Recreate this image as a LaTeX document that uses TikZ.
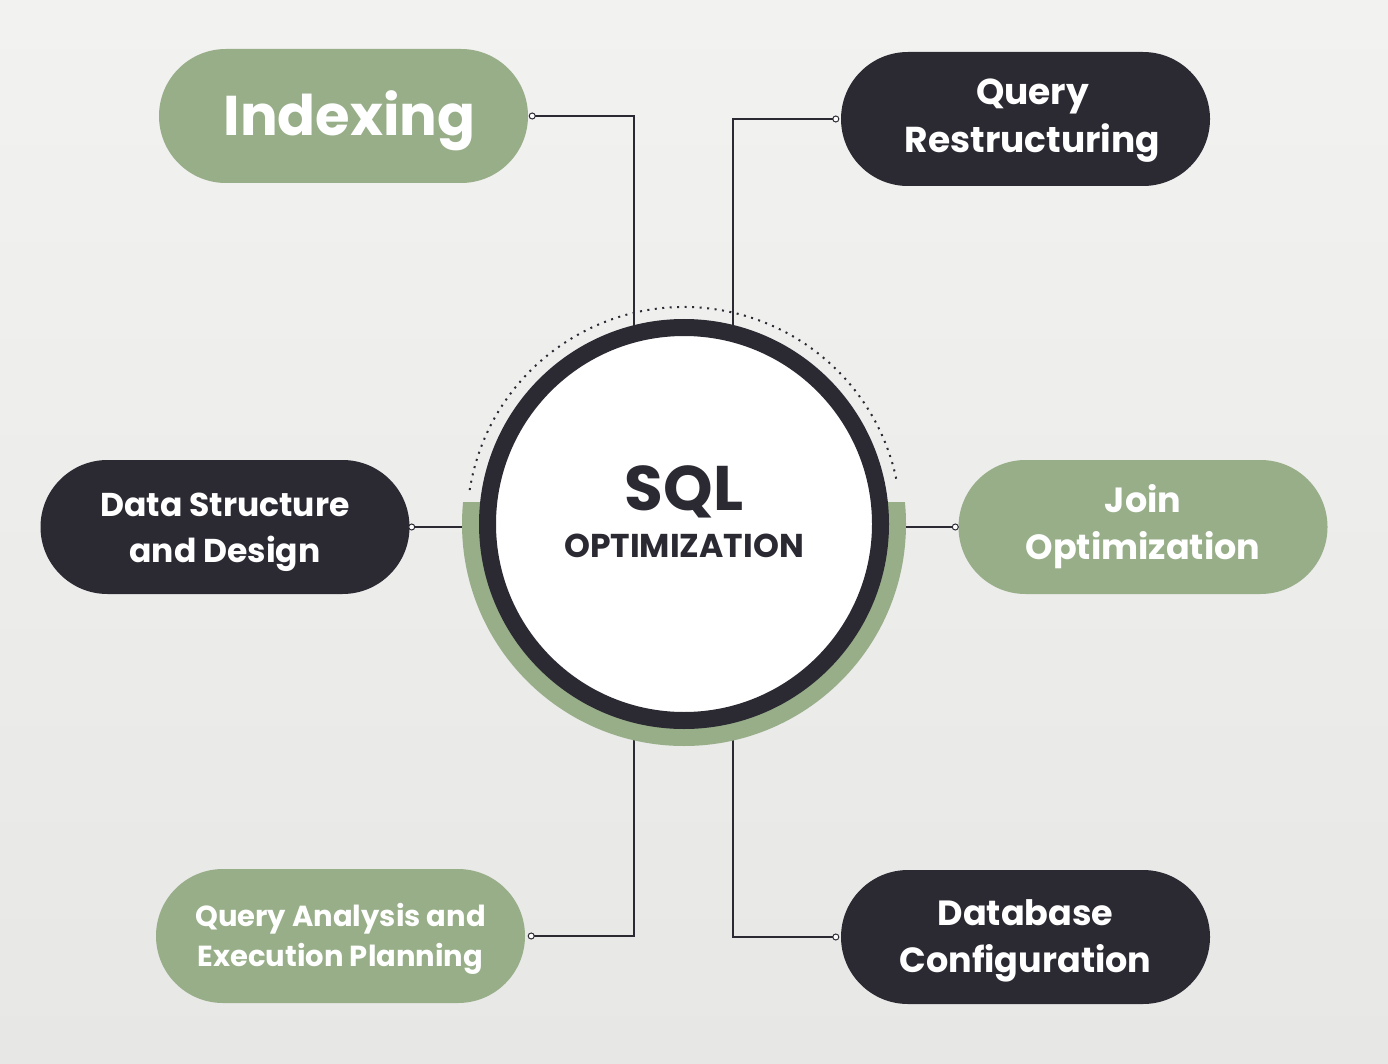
\documentclass[tikz,border=0pt]{standalone}
\usepackage{fontspec}
\setmainfont{Poppins}
\usetikzlibrary{calc}
\definecolor{sage}{HTML}{97AE88}
\definecolor{ink}{HTML}{2B2A33}
\definecolor{bgtop}{HTML}{F2F2F1}
\definecolor{bgbot}{HTML}{E7E7E6}
\newcommand\shiftdown[2]{\raisebox{-#1}[\height][\depth]{#2}}
\begin{document}
\begin{tikzpicture}[x=1pt,y=-1pt,
  pill/.style={rounded corners=67pt, minimum width=369pt, minimum height=134pt,
    inner sep=0pt, align=center, text=white, font=\bfseries},
  greenpill/.style={pill, fill=sage},
  darkpill/.style={pill, fill=ink},
  link/.style={draw=ink, line width=1.4pt},
  enddot/.style={draw=ink, fill=white, line width=1pt}
]
\useasboundingbox (0,0) rectangle (1388,1064);
\shade[top color=bgtop, bottom color=bgbot] (0,0) rectangle (1388,1064);

% pills
\node[greenpill, font=\bfseries\fontsize{56}{60}\selectfont] (idx) at (343.5,116) {\hspace*{12pt}\shiftdown{5pt}{Indexing}};
\node[darkpill, font=\bfseries\fontsize{36}{48}\selectfont] (qr) at (1025.5,119) {\hspace*{14pt}\shiftdown{2pt}{Query}\\\hspace*{14pt}\shiftdown{2pt}{Restructuring}};
\node[darkpill, font=\bfseries\fontsize{33}{46}\selectfont] (ds) at (225,527) {\shiftdown{5pt}{Data Structure}\\\shiftdown{5pt}{and Design}};
\node[greenpill, font=\bfseries\fontsize{35}{47}\selectfont] (jo) at (1143,527) {Join\\Optimization};
\node[greenpill, font=\bfseries\fontsize{29}{40}\selectfont] (qa) at (340.5,936) {\shiftdown{3pt}{Query Analysis and}\\\shiftdown{3pt}{Execution Planning}};
\node[darkpill, font=\bfseries\fontsize{35}{47}\selectfont] (db) at (1025.5,937) {\shiftdown{4pt}{Database}\\\shiftdown{4pt}{Configuration}};

% connector ends
\coordinate (e1) at ($(idx.east)+(4,0)$);
\coordinate (e2) at ($(qr.west)+(-5,0)$);
\coordinate (e3) at ($(ds.east)+(2,0)$);
\coordinate (e4) at ($(jo.west)+(-3,0)$);
\coordinate (e5) at ($(qa.east)+(6,0)$);
\coordinate (e6) at ($(db.west)+(-5,0)$);
\coordinate (t1) at (634,360);
\coordinate (t2) at (733,360);
\coordinate (t3) at (480,527);
\coordinate (t4) at (890,527);
\coordinate (t5) at (634,700);
\coordinate (t6) at (733,700);

\draw[link] (e1) -| (t1);
\draw[link] (e2) -| (t2);
\draw[link] (e3) -- (t3);
\draw[link] (e4) -- (t4);
\draw[link] (e5) -| (t5);
\draw[link] (e6) -| (t6);

% green half ring
\begin{scope}
  \clip (400,502) rectangle (1000,800);
  \fill[sage] (684,524) circle[radius=222pt];
\end{scope}

% dotted arc
\draw[ink, line width=2pt, dash pattern=on 2pt off 5.5pt] (684,524) ++(171:217pt) arc[start angle=171, end angle=12, radius=217pt];

% central circle
\node[circle, draw=ink, fill=white, line width=17pt, minimum size=393pt, inner sep=0pt] (c) at (684,524) {};
\node[anchor=base, text=ink, font=\bfseries\fontsize{63}{63}\selectfont] (sql) at (684,510) {SQL};
\node[anchor=base, text=ink, font=\bfseries\fontsize{33}{33}\selectfont] (opt) at (684,557) {OPTIMIZATION};

% end dots
\foreach \p in {e1,e2,e3,e4,e5,e6}
  \draw[enddot] (\p) circle[radius=3pt];
\end{tikzpicture}
\end{document}
